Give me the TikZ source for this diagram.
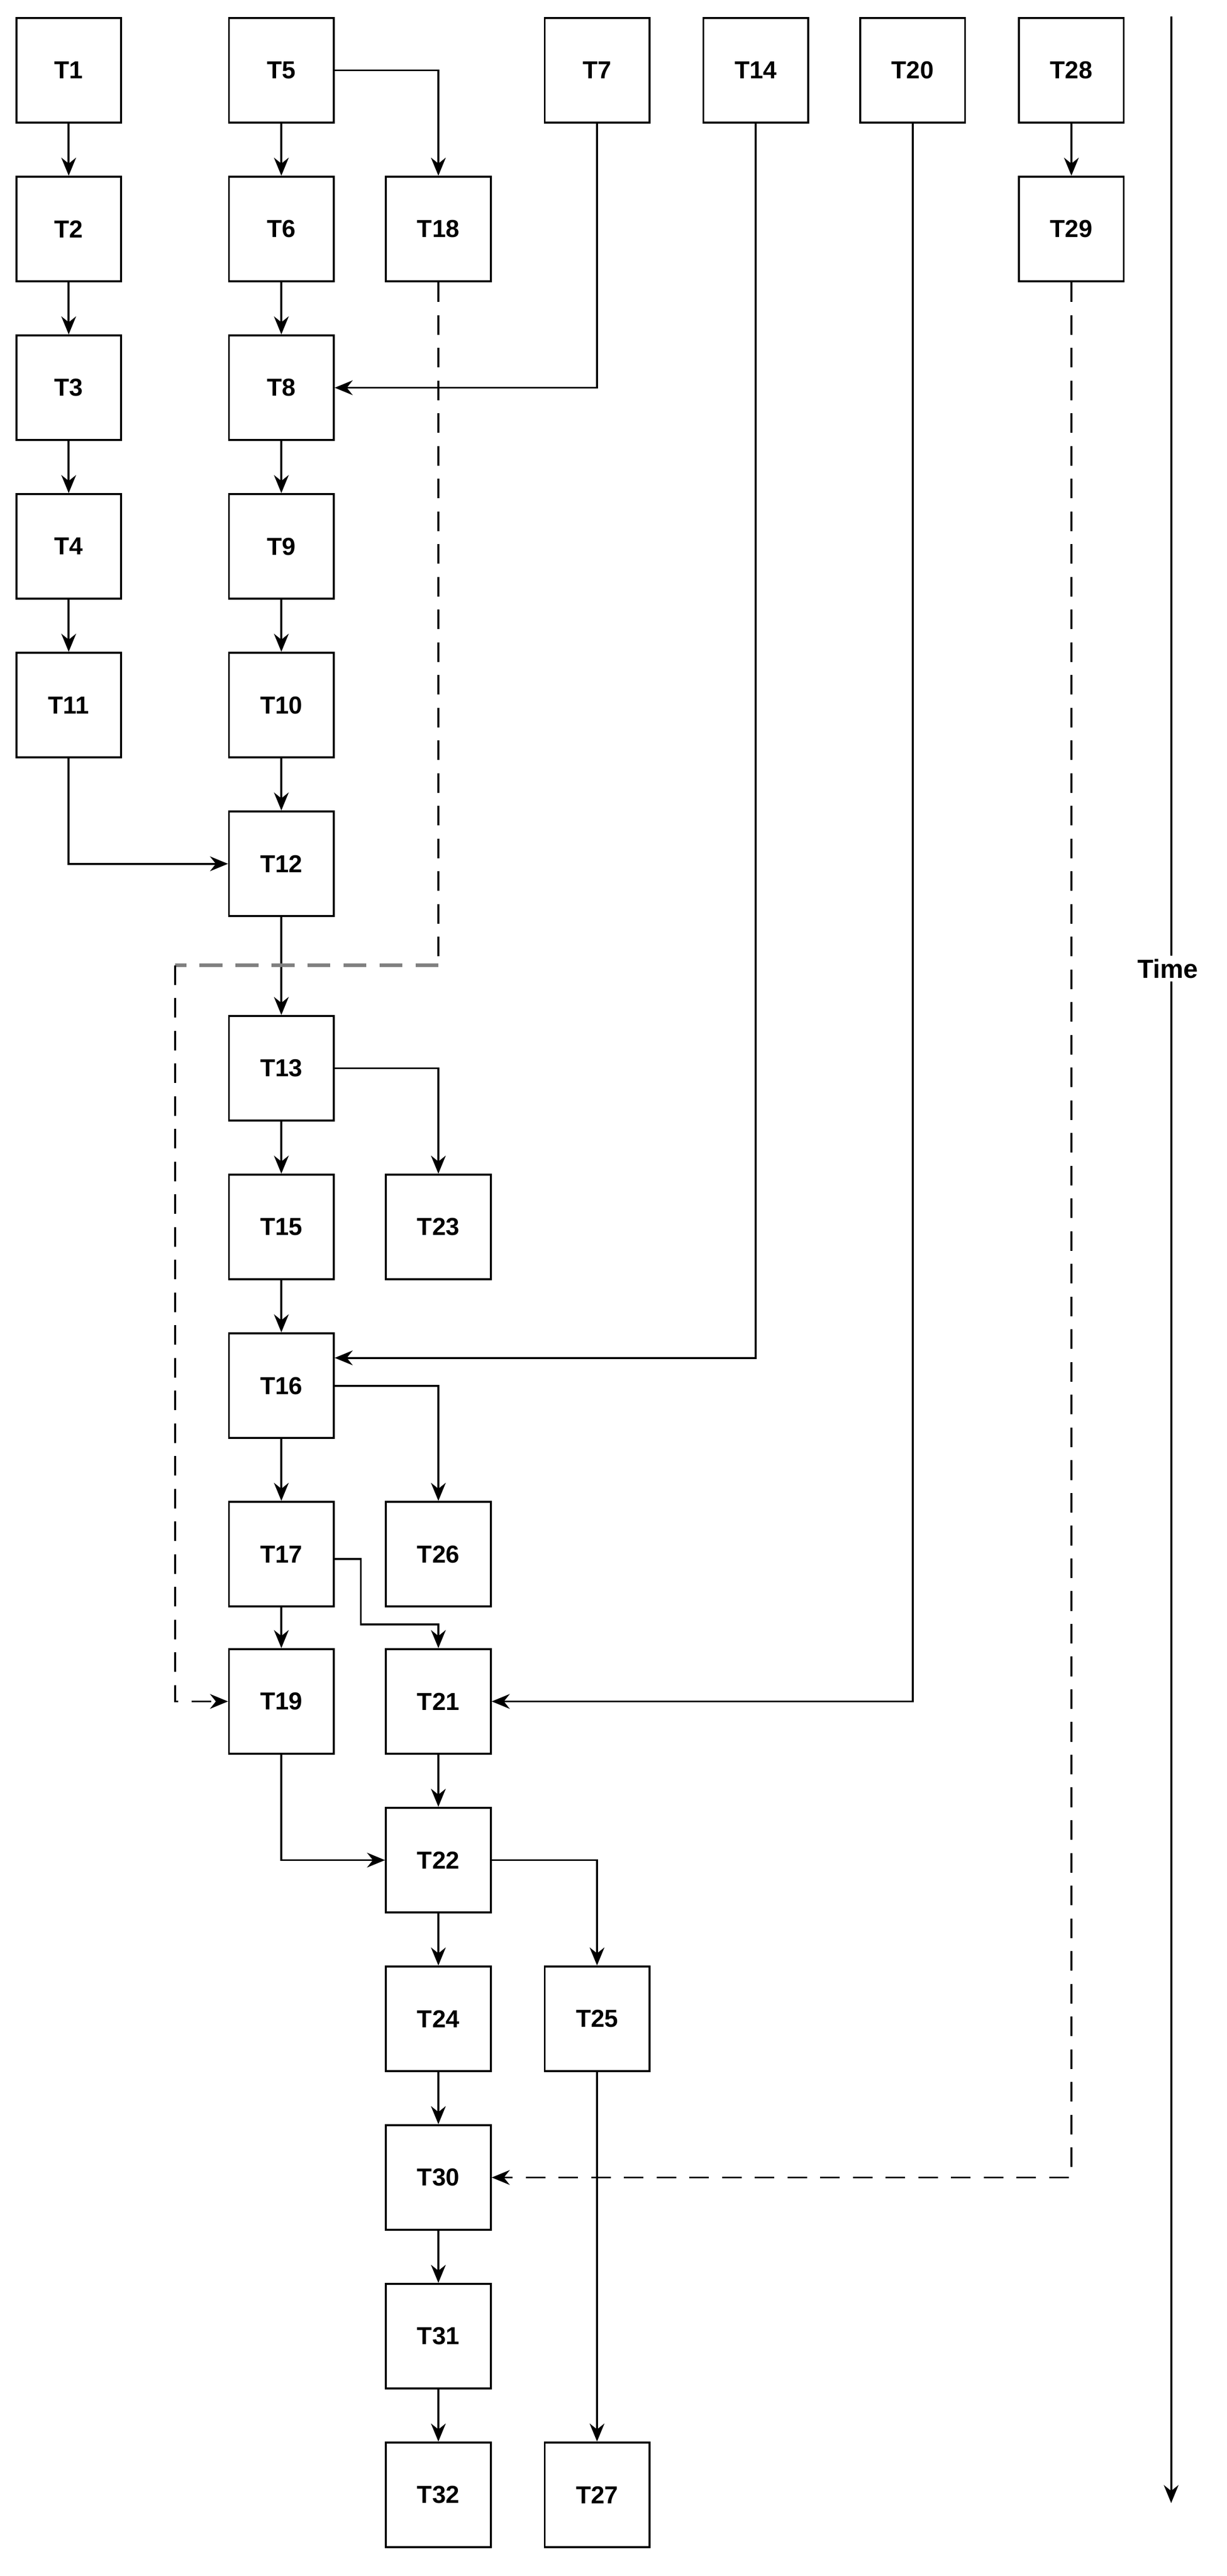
\documentclass[tikz,border=0pt]{standalone}
\usepackage{fontspec}
\setmainfont{Liberation Sans}
\usetikzlibrary{arrows.meta}
\begin{document}
\begin{tikzpicture}[x=1pt,y=-1pt,
 box/.style={draw,line width=1.2pt,minimum width=64pt,minimum height=64pt,font=\bfseries\fontsize{15}{17}\selectfont,inner sep=0},
 ar/.style={line width=1.2pt,-{Stealth[length=11pt,width=9pt]}},
 da/.style={ar,dash pattern=on 12pt off 8pt}]
\useasboundingbox (0,0) rectangle (750,1574.6);
\foreach \n/\x/\y in {T1/42/43,T2/42/140,T3/42/237,T4/42/334,T11/42/431,
 T5/172/43,T6/172/140,T8/172/237,T9/172/334,T10/172/431,T12/172/528,T13/172/653,T15/172/750,T16/172/847,T17/172/950,T19/172/1040,
 T18/268/140,T7/365/43,T14/462/43,T20/558/43,T28/655/43,T29/655/140,
 T23/268/750,T26/268/950,T21/268/1040,T22/268/1137,T24/268/1234,T30/268/1331,T31/268/1428,T32/268/1525,
 T25/365/1234,T27/365/1525}
 \node[box] (\n) at (\x,\y) {\n};
\foreach \a/\b in {T1/T2,T2/T3,T3/T4,T4/T11,T5/T6,T6/T8,T8/T9,T9/T10,T10/T12,T12/T13,T13/T15,T15/T16,T16/T17,T17/T19,T21/T22,T22/T24,T24/T30,T30/T31,T31/T32,T25/T27,T28/T29}
 \draw[ar] (\a) -- (\b);
\draw[ar] (T11.south) |- (T12.west);
\draw[ar] (T5.east) -| (T18.north);
\draw[ar] (T7.south) |- (T8.east);
\draw[ar] (T13.east) -| (T23.north);
\draw[ar] (T14.south) |- ([yshift=17pt]T16.east);
\draw[ar] (T16.east) -| (T26.north);
\draw[ar] ([yshift=-3pt]T17.east) -- ++(16,0) |- (268,993) -- (T21.north);
\draw[ar] (T20.south) |- (T21.east);
\draw[ar] (T19.south) |- (T22.west);
\draw[ar] (T22.east) -| (T25.north);
\draw[da] (T29.south) |- (T30.east);
\draw[line width=1.2pt,dash pattern=on 12pt off 8pt] (T18.south) -- (268,590) coordinate (c1);
\draw[line width=2pt,gray,dash pattern=on 14pt off 8pt] (c1) -- (107,590) coordinate (c2);
\draw[da] (c2) |- (T19.west);
\coordinate (ta) at (716,10); \coordinate (tb) at (716,1530);
\draw[ar] (ta) -- (tb);
\node[fill=white,font=\bfseries\fontsize{16}{18}\selectfont,inner sep=2pt] (time) at (714,592) {Time};
\end{tikzpicture}
\end{document}
